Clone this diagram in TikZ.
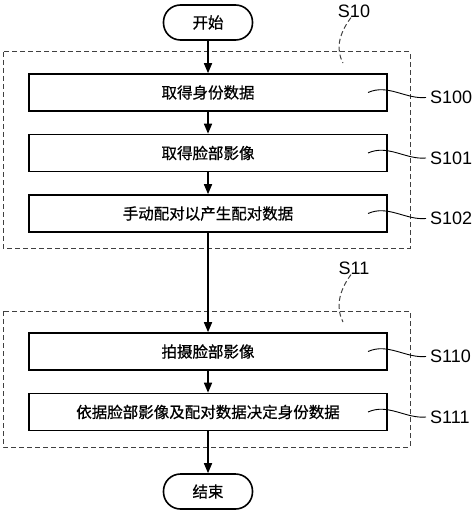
\documentclass[tikz,border=0pt]{standalone}
\usepackage{fontspec}
\setmainfont{Liberation Sans}
\newfontfamily\cjk[FakeBold=0.7]{Noto Sans CJK SC}
\usetikzlibrary{arrows.meta, positioning}

\tikzset{
  stepbox/.style={draw, line width=1.6pt, minimum width=358pt, minimum height=37pt,
    inner sep=0pt, font=\cjk\fontsize{15.5}{16}\selectfont},
  terminal/.style={draw, line width=1.6pt, rounded corners=17pt, minimum width=89pt,
    minimum height=35pt, inner sep=0pt, font=\cjk\fontsize{15.5}{16}\selectfont},
  groupbox/.style={draw=black!75, line width=1pt, dash pattern=on 5pt off 3pt},
  flow/.style={line width=1.6pt, -{Triangle[length=10pt, width=8pt]}},
  tag/.style={font=\fontsize{18}{18}\selectfont, inner sep=0pt, inner xsep=4pt},
  wave/.style={line width=0.9pt},
}

\begin{document}
\begin{tikzpicture}[x=1pt, y=-1pt]
  \useasboundingbox (0,0) rectangle (474,513);

  % dashed groups
  \draw[groupbox] (3,52) rectangle (410,248);
  \draw[groupbox] (3,311) rectangle (410,447);

  \node[tag] (s10) at (354,11) {S10};
  \node[tag] (s11) at (354,268) {S11};
  \coordinate (c10) at (343,63);
  \coordinate (c11) at (343,322);
  \draw[groupbox] ([xshift=-3pt]s10.south) .. controls (338,35) and (336,50) .. (c10);
  \draw[groupbox] ([xshift=-3pt]s11.south) .. controls (338,292) and (336,309) .. (c11);

  % steps
  \node[terminal] (start) at (208,22.5) {开始};
  \node[stepbox] (b100) at (208,92.5) {取得身份数据};
  \node[stepbox] (b101) at (208,153) {取得脸部影像};
  \node[stepbox] (b102) at (208,213.5) {手动配对以产生配对数据};
  \node[stepbox] (b110) at (208,351.5) {拍摄脸部影像};
  \node[stepbox] (b111) at (208,412) {依据脸部影像及配对数据决定身份数据};
  \node[terminal] (end) at (208,491.5) {结束};

  \draw[flow] (start) -- (b100);
  \draw[flow] (b100) -- (b101);
  \draw[flow] (b101) -- (b102);
  \draw[flow] (b102) -- (b110);
  \draw[flow] (b110) -- (b111);
  \draw[flow] (b111) -- (end);

  % step labels
  \foreach \name/\ypos in {100/92.5, 101/153, 102/213.5, 110/351.5, 111/412} {
    \node[tag, anchor=west] (s\name) at (426,\ypos+5) {S\name};
    \coordinate (w\name) at (368,\ypos);
    \draw[wave] (w\name) .. controls +(20,-9) and +(-20,2) .. (s\name.west);
  }
\end{tikzpicture}
\end{document}
